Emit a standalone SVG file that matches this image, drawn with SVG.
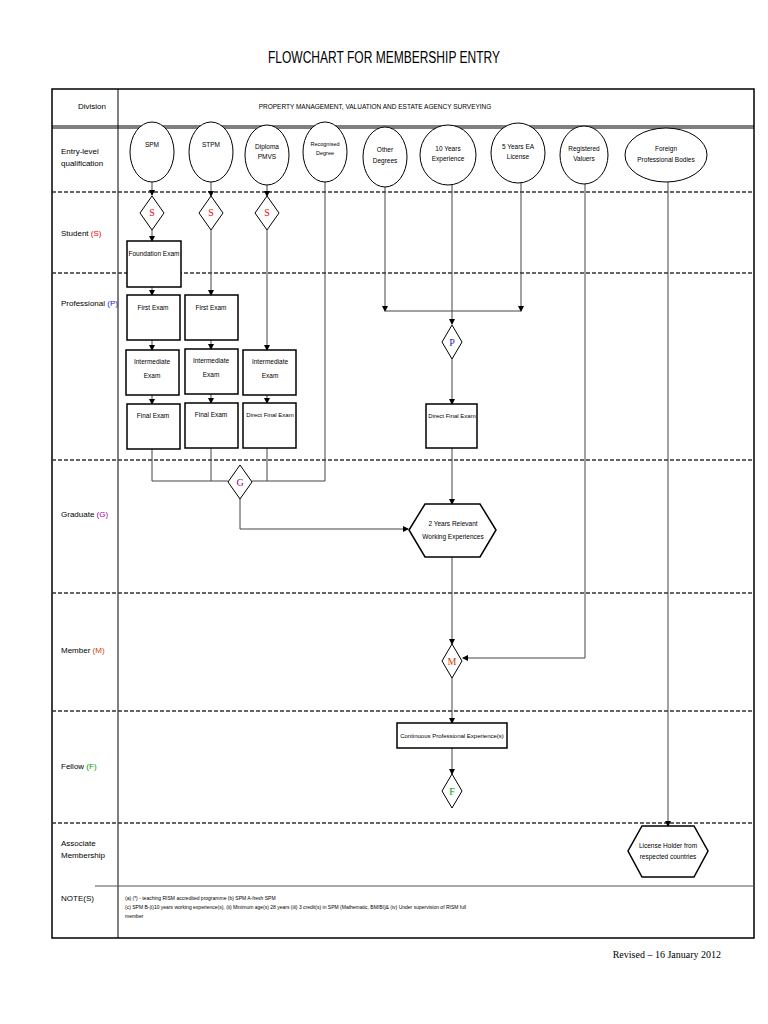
<svg xmlns="http://www.w3.org/2000/svg" width="768" height="1024" viewBox="0 0 768 1024">
<defs>
<marker id="a" markerWidth="6" markerHeight="6" refX="5" refY="3" orient="auto" markerUnits="userSpaceOnUse"><path d="M0,0 L6,3 L0,6 z" fill="#000"/></marker>
<style>
text{font-family:"Liberation Sans",Arial,sans-serif;font-size:6.5px;fill:#000}
.t{text-anchor:middle}
.n{fill:#fff;stroke:#000;stroke-width:1.5}
.d{fill:#fff;stroke:#000;stroke-width:1}
.sep{stroke:#333;stroke-width:1.3;stroke-dasharray:4,2}
.c{fill:none;stroke:#444;stroke-width:1}
.L{font-size:8px}
.dl{font-family:"Liberation Serif",serif;font-size:10px}
.rs{fill:#e00}.bp{fill:#22c}.pg{fill:#909}.om{fill:#c40}.gf{fill:#090}
</style>
</defs>
<rect width="768" height="1024" fill="#fff"/>
<text x="384" y="63" class="t" style="font-size:16px" textLength="232" lengthAdjust="spacingAndGlyphs">FLOWCHART FOR MEMBERSHIP ENTRY</text>
<g id="frame">
<rect x="52" y="89" width="702" height="849" fill="none" stroke="#000" stroke-width="1.5"/>
<line x1="52" y1="126" x2="754" y2="126" stroke="#000"/>
<line x1="52" y1="128" x2="754" y2="128" stroke="#000"/>
<line x1="118" y1="89" x2="118" y2="938" stroke="#000"/>
<line class="sep" x1="52" y1="192" x2="754" y2="192"/>
<line class="sep" x1="52" y1="273" x2="754" y2="273"/>
<line class="sep" x1="52" y1="460" x2="754" y2="460"/>
<line class="sep" x1="52" y1="593" x2="754" y2="593"/>
<line class="sep" x1="52" y1="711" x2="754" y2="711"/>
<line class="sep" x1="52" y1="823" x2="754" y2="823"/>
<line x1="95" y1="886" x2="754" y2="886" stroke="#555" stroke-width="1.2"/>
<text x="78" y="109" class="L">Division</text>
<text x="375" y="109" class="t">PROPERTY MANAGEMENT, VALUATION AND ESTATE AGENCY SURVEYING</text>
<text x="61" y="154" class="L">Entry-level</text><text x="61" y="166" class="L">qualification</text>
<text x="61" y="236" class="L">Student <tspan class="rs">(S)</tspan></text>
<text x="61" y="306" class="L">Professional <tspan class="bp">(P)</tspan></text>
<text x="61" y="517" class="L">Graduate <tspan class="pg">(G)</tspan></text>
<text x="61" y="653" class="L">Member <tspan class="om">(M)</tspan></text>
<text x="61" y="769" class="L">Fellow <tspan class="gf">(F)</tspan></text>
<text x="61" y="846" class="L">Associate</text><text x="61" y="858" class="L">Membership</text>
<text x="61" y="901" class="L">NOTE(S)</text>
<text x="125" y="900" style="font-size:5px">(a) (*) - teaching RISM accredited programme          (b) SPM A-fresh SPM</text>
<text x="125" y="909" style="font-size:5px">(c) SPM B-(i)10 years working experience(s), (ii) Minimum age(s) 28 years (iii) 3 credit(s) in SPM (Mathematic, BM/BI)&amp; (iv) Under supervision of RISM full</text>
<text x="125" y="918" style="font-size:5px">member</text>
</g>
<g id="connectors" class="c">
<path d="M152,182 V195" marker-end="url(#a)"/><path d="M152,230 V241" marker-end="url(#a)"/>
<path d="M152,287 V295" marker-end="url(#a)"/><path d="M152,340 V350" marker-end="url(#a)"/><path d="M152,395 V404" marker-end="url(#a)"/>
<path d="M211,182 V196" marker-end="url(#a)"/><path d="M211,230 V295" marker-end="url(#a)"/>
<path d="M211,340 V349" marker-end="url(#a)"/><path d="M211,394 V403" marker-end="url(#a)"/>
<path d="M267,185 V196" marker-end="url(#a)"/><path d="M267,230 V350" marker-end="url(#a)"/><path d="M267,395 V403" marker-end="url(#a)"/>
<path d="M152,449 V481 H228"/><path d="M211,448 V481"/><path d="M267,448 V481"/>
<path d="M325,182 V481 H252"/>
<path d="M240,499 V529 H408" marker-end="url(#a)"/>
<path d="M385,187 V311" marker-end="url(#a)"/><path d="M521,182 V311" marker-end="url(#a)"/>
<path d="M385,311 H521"/><path d="M452,182 V324" marker-end="url(#a)"/>
<path d="M452,359 V404" marker-end="url(#a)"/><path d="M452,448 V504" marker-end="url(#a)"/>
<path d="M452,557 V644" marker-end="url(#a)"/>
<path d="M585,184 V658 H463" marker-end="url(#a)"/>
<path d="M452,678 V723" marker-end="url(#a)"/><path d="M452,748 V774" marker-end="url(#a)"/>
<path d="M668,182 V826" marker-end="url(#a)"/>
</g>
<g id="n-spm"><ellipse class="d" cx="152" cy="152" rx="22" ry="30"/><text x="152" y="147" class="t">SPM</text></g>
<g id="n-stpm"><ellipse class="d" cx="211" cy="152" rx="22" ry="30"/><text x="211" y="147" class="t">STPM</text></g>
<g id="n-dip"><ellipse class="d" cx="267" cy="155" rx="22" ry="30"/><text x="267" y="149" class="t">Diploma</text><text x="267" y="159" class="t">PMVS</text></g>
<g id="n-rec"><ellipse class="d" cx="325" cy="152" rx="22" ry="30"/><text x="325" y="146" class="t" style="font-size:5.5px">Recognised</text><text x="325" y="155" class="t" style="font-size:5.5px">Degree</text></g>
<g id="n-oth"><ellipse class="d" cx="385" cy="157" rx="22" ry="30"/><text x="385" y="152" class="t">Other</text><text x="385" y="163" class="t">Degrees</text></g>
<g id="n-10y"><ellipse class="d" cx="448" cy="155" rx="28" ry="30"/><text x="448" y="151" class="t">10 Years</text><text x="448" y="161" class="t">Experience</text></g>
<g id="n-5y"><ellipse class="d" cx="518" cy="153" rx="27" ry="30"/><text x="518" y="149" class="t">5 Years EA</text><text x="518" y="159" class="t">License</text></g>
<g id="n-rv"><ellipse class="d" cx="584" cy="155" rx="24" ry="29"/><text x="584" y="151" class="t">Registered</text><text x="584" y="161" class="t">Valuers</text></g>
<g id="n-fpb"><ellipse class="d" cx="666" cy="155" rx="41" ry="27"/><text x="666" y="151" class="t">Foreign</text><text x="666" y="162" class="t">Professional Bodies</text></g>
<g id="s1"><polygon class="d" points="152,196 164,213 152,230 140,213"/><text x="152" y="216" class="t dl rs">S</text></g>
<g id="s2"><polygon class="d" points="211,196 223,213 211,230 199,213"/><text x="211" y="216" class="t dl rs">S</text></g>
<g id="s3"><polygon class="d" points="267,196 279,213 267,230 255,213"/><text x="267" y="216" class="t dl rs">S</text></g>
<g id="b-found"><rect class="n" x="127" y="241" width="54" height="46"/><text x="154" y="256" class="t">Foundation Exam</text></g>
<g id="b-first1"><rect class="n" x="127" y="295" width="53" height="45"/><text x="153" y="310" class="t">First Exam</text></g>
<g id="b-first2"><rect class="n" x="185" y="295" width="53" height="45"/><text x="211" y="310" class="t">First Exam</text></g>
<g id="b-int1"><rect class="n" x="126" y="350" width="53" height="45"/><text x="152" y="364" class="t">Intermediate</text><text x="152" y="378" class="t">Exam</text></g>
<g id="b-int2"><rect class="n" x="185" y="349" width="53" height="45"/><text x="211" y="363" class="t">Intermediate</text><text x="211" y="377" class="t">Exam</text></g>
<g id="b-int3"><rect class="n" x="243" y="350" width="53" height="45"/><text x="270" y="364" class="t">Intermediate</text><text x="270" y="378" class="t">Exam</text></g>
<g id="b-fin1"><rect class="n" x="127" y="404" width="53" height="45"/><text x="153" y="418" class="t">Final Exam</text></g>
<g id="b-fin2"><rect class="n" x="185" y="403" width="53" height="45"/><text x="211" y="417" class="t">Final Exam</text></g>
<g id="b-dfe1"><rect class="n" x="243" y="403" width="53" height="45"/><text x="270" y="417" class="t" style="font-size:6px">Direct Final Exam</text></g>
<g id="p"><polygon class="d" points="452,325 462,342 452,359 442,342"/><text x="452" y="346" class="t dl bp">P</text></g>
<g id="b-dfe2"><rect class="n" x="426" y="404" width="51" height="44"/><text x="452" y="418" class="t" style="font-size:6px">Direct Final Exam</text></g>
<g id="g"><polygon class="d" points="240,465 252,482 240,499 228,482"/><text x="240" y="486" class="t dl pg">G</text></g>
<g id="h-2y"><polygon class="n" points="425,504 480,504 496,530 480,557 425,557 409,530"/><text x="453" y="526" class="t">2 Years Relevant</text><text x="453" y="539" class="t">Working Experiences</text></g>
<g id="m"><polygon class="d" points="452,644 462,661 452,678 442,661"/><text x="452" y="665" class="t dl om">M</text></g>
<g id="b-cpe"><rect class="n" x="397" y="723" width="110" height="25"/><text x="452" y="738" class="t" style="font-size:6px">Continuous Professional Experience(s)</text></g>
<g id="f"><polygon class="d" points="452,774 462,791 452,808 442,791"/><text x="452" y="795" class="t dl gf">F</text></g>
<g id="h-lic"><polygon class="n" points="642,826 694,826 708,851 694,877 642,877 628,851"/><text x="668" y="848" class="t">License Holder from</text><text x="668" y="859" class="t">respected countries</text></g>
<text x="721" y="958" style="font-family:'Liberation Serif',serif;font-size:10px;text-anchor:end">Revised – 16 January 2012</text>
</svg>
